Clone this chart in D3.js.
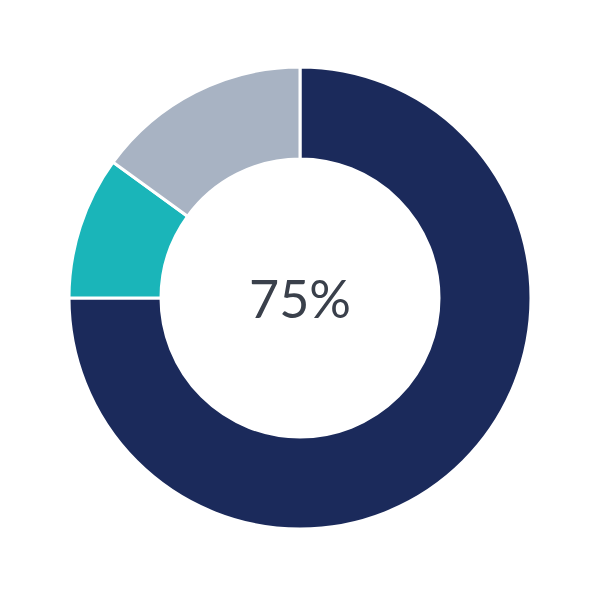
<!DOCTYPE html>
<html><head><meta charset="utf-8">
<script src="https://cdn.jsdelivr.net/npm/d3@7"></script>
<style>html,body{margin:0;padding:0;background:#fff;}</style>
</head><body>
<svg id="chart" width="600" height="599"></svg>
<script>
const categories = ["A", "B", "C"];
const values = [75, 10, 15];
const colors = ["#1b2a5b", "#1ab5b9", "#a8b3c3"];
const centerLabel = "75%";

const svg = d3.select("#chart");
const cx = 300, cy = 298, outerR = 231, innerR = 139;
const g = svg.append("g").attr("transform", `translate(${cx},${cy})`);
const pie = d3.pie().sort(null).value(d => d)(values);
const arc = d3.arc().innerRadius(innerR).outerRadius(outerR);
g.selectAll("path").data(pie).join("path")
  .attr("d", arc)
  .attr("fill", (d, i) => colors[i])
  .attr("stroke", "#fff")
  .attr("stroke-width", 3);
g.append("text")
  .attr("text-anchor", "middle")
  .attr("dominant-baseline", "central")
  .attr("y", 0)
  .attr("font-family", "Lato, 'Open Sans', sans-serif")
  .attr("font-size", 52)
  .attr("fill", "#3a404b")
  .text(centerLabel);
</script>
</body></html>
